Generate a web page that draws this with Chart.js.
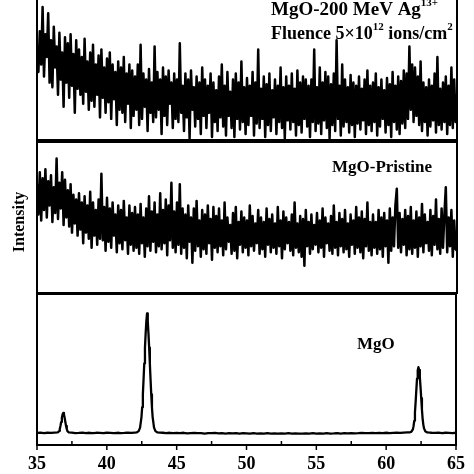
<!DOCTYPE html>
<html><head><meta charset="utf-8">
<script src="https://cdn.jsdelivr.net/npm/chart.js@4"></script>
<style>
html,body{margin:0;padding:0;background:#fff;}
#wrap{position:relative;width:474px;height:474px;overflow:hidden;background:#fff;}
canvas{position:absolute;left:0;}
</style></head><body>
<div id="wrap">
<canvas id="c1" width="474" height="165" style="top:-21px;width:474px;height:165px"></canvas>
<canvas id="c2" width="474" height="170" style="top:130px;width:474px;height:170px"></canvas>
<canvas id="c3" width="474" height="190" style="top:284px;width:474px;height:190px"></canvas>
</div>
<script>
// 2-theta sampling grid of the two noisy scans
const scanStart = 35, scanStep = 0.1;

// MgO-200 MeV Ag13+ (irradiated) intensity, 35.0 .. 65.0 every 0.1 deg
const irradiated = [
60,45,72,50,88,42,70,55,84,38,
66,35,75,48,62,30,71,40,58,22,
68,38,64,28,70,36,57,18,66,34,
60,30,55,24,67,32,52,20,58,26,
63,22,50,30,56,15,60,28,48,18,
54,25,58,14,50,27,45,10,52,20,
48,18,55,12,44,24,50,8,46,16,
42,20,50,10,63,14,44,22,40,6,
47,18,38,12,62,15,45,20,40,4,
48,16,42,10,46,24,38,8,44,14,
40,12,64,18,36,6,44,15,40,1,
46,20,35,9,42,14,38,4,48,16,
40,8,36,18,44,2,38,12,33,6,
42,15,50,9,36,3,45,16,32,8,
40,2,44,14,38,7,52,12,35,4,
41,10,36,16,45,3,38,11,60,8,
34,14,42,2,37,10,44,6,33,15,
40,4,36,12,48,8,35,1,42,13,
36,7,44,12,34,3,46,10,38,5,
42,14,40,9,36,2,40,12,60,6,
35,11,48,4,38,13,45,8,42,1,
37,10,44,6,66,14,36,3,50,9,
40,12,35,5,43,10,38,2,36,11,
42,7,34,13,40,4,46,10,36,6,
38,12,44,3,35,9,40,14,33,5,
41,10,37,2,45,12,36,7,42,4,
39,11,46,8,44,14,62,20,50,12,
48,16,42,10,52,6,38,12,35,3,
40,9,36,13,44,5,55,10,34,7,
38,12,42,4,36,10,48,8,40,12,
30];

// MgO-Pristine intensity, 35.0 .. 65.0 every 0.1 deg
const pristine = [
72,52,80,48,76,55,82,50,74,58,
78,47,70,53,89,49,73,56,80,45,
75,50,68,44,72,40,65,46,62,38,
66,42,60,33,64,40,58,36,67,30,
60,38,55,32,62,36,79,35,57,28,
63,34,56,30,60,38,52,27,58,33,
55,29,61,35,50,26,58,32,53,28,
57,30,52,26,59,33,50,24,56,31,
64,28,54,34,60,27,52,31,66,29,
55,33,62,25,58,35,73,30,54,27,
60,32,72,26,56,30,52,23,58,34,
50,20,56,28,61,31,48,24,55,29,
52,26,58,33,49,22,57,30,51,27,
56,31,48,25,60,29,50,34,45,26,
53,28,57,23,47,32,54,27,50,30,
48,25,58,31,51,28,46,33,55,26,
50,29,47,24,56,32,49,27,52,30,
46,26,57,31,48,23,54,29,50,33,
47,28,52,25,60,30,46,27,51,24,
49,18,55,31,47,26,52,29,45,32,
53,27,48,30,56,24,50,33,46,28,
51,26,58,30,47,25,53,31,49,27,
55,29,46,24,52,32,48,26,57,30,
50,27,54,23,49,31,60,28,47,25,
52,30,47,26,55,29,50,24,53,31,
48,20,56,28,50,31,58,69,30,53,
27,49,32,55,25,51,29,57,26,48,
30,54,24,50,31,59,27,52,33,47,
28,55,25,51,32,62,29,49,26,56,
30,52,70,27,50,31,55,24,48,29,
28];

// MgO reference pattern
const refTheta = [
35.0,35.25,35.5,35.75,36.0,36.25,36.48,
36.58,36.63,36.68,36.73,36.78,36.83,36.88,36.93,36.98,37.03,37.08,37.13,37.18,37.28,
37.5,37.75,38.0,38.25,38.5,38.75,39.0,39.25,39.5,39.75,40.0,40.25,40.5,40.75,41.0,41.25,41.5,41.75,42.0,42.13,
42.28,42.38,42.48,42.53,42.58,42.63,42.68,42.73,42.78,42.83,42.88,42.93,42.98,43.03,43.08,43.13,43.18,43.23,43.28,43.38,43.48,43.63,43.8,44.0,
44.25,44.5,44.75,45.0,45.25,45.5,45.75,46.0,46.25,46.5,46.75,47.0,47.25,47.5,47.75,48.0,48.25,48.5,48.75,49.0,
49.25,49.5,49.75,50.0,50.25,50.5,50.75,51.0,51.25,51.5,51.75,52.0,52.25,52.5,52.75,53.0,53.25,53.5,53.75,54.0,
54.25,54.5,54.75,55.0,55.25,55.5,55.75,56.0,56.25,56.5,56.75,57.0,57.25,57.5,57.75,58.0,58.25,58.5,58.75,59.0,
59.25,59.5,59.75,60.0,60.25,60.5,60.75,61.0,61.25,61.5,
61.71,61.81,61.91,61.96,62.01,62.06,62.11,62.16,62.21,62.26,62.31,62.36,62.41,62.46,62.51,62.56,62.61,62.66,62.71,62.81,62.91,
63.0,63.25,63.5,63.75,64.0,64.25,64.5,64.75,65.0];
const refIntensity = [
8.0,8.2,7.9,8.1,8.0,8.2,8.3,
9.2,10.6,12.6,15.2,18.0,20.2,21.2,20.2,18.0,15.2,12.6,10.6,9.2,8.3,
8.2,7.9,8.0,8.2,7.9,8.1,7.8,8.1,8.0,7.9,8.1,8.0,7.8,8.1,7.9,8.0,8.2,8.0,8.2,8.3,
9.2,11.5,18.5,25,33.5,43.5,54,64.5,74,82,87.2,82,74,64.5,54,43.5,33.5,25,18.5,11.5,9.2,8.3,8.2,8.1,
7.9,8.1,7.8,8.0,7.9,8.1,7.7,7.9,8.0,7.8,7.9,7.6,7.9,7.8,8.0,7.7,7.9,7.6,7.8,7.7,
7.9,7.6,7.8,7.7,7.5,7.8,7.6,7.7,7.5,7.8,7.6,7.7,7.5,7.7,7.6,7.8,7.5,7.7,7.6,7.5,
7.7,7.6,7.8,7.5,7.7,7.6,7.8,7.6,7.7,7.9,7.6,7.8,7.7,7.9,7.7,7.8,8.0,7.8,7.9,8.0,
7.8,8.0,7.9,8.1,7.9,8.0,8.1,8.0,8.2,8.3,
8.4,8.8,10.3,12.5,16,21.5,28.5,36.5,44,49.5,51.5,49.8,45,38.5,31,23.5,17.5,13.5,11,9.0,8.4,
8.3,8.1,8.0,8.2,7.9,8.1,8.0,7.9,8.1];

const xMin = 35, xMax = 65, xMajorStep = 5, xMinorStep = 2.5;
const panelLabels = {
  top: [[{t:'MgO-200 MeV Ag'},{t:'13+',sup:true}], [{t:'Fluence 5\u00d710'},{t:'12',sup:true},{t:' ions/cm'},{t:'2',sup:true}]],
  mid: [[{t:'MgO-Pristine'}]],
  bot: [[{t:'MgO'}]]
};
const yTitle = 'Intensity';

const FONT = '"Liberation Serif","Times New Roman",serif';

function scanPoints(arr){ return arr.map((v,i)=>({x: +(scanStart + i*scanStep).toFixed(2), y: v})); }
function refPoints(){ return refTheta.map((t,i)=>({x:t, y:refIntensity[i]})); }

function drawRich(ctx, x, y, parts, size){
  let cx = x;
  ctx.textBaseline = 'alphabetic';
  ctx.textAlign = 'left';
  for (const p of parts){
    if (p.sup){
      ctx.font = 'bold ' + Math.round(size*0.6) + 'px ' + FONT;
      ctx.fillText(p.t, cx, y - size*0.5);
    } else {
      ctx.font = 'bold ' + size + 'px ' + FONT;
      ctx.fillText(p.t, cx, y);
    }
    cx += ctx.measureText(p.t).width;
  }
}

function framePlugin(cfg){
  return {
    id:'frame'+cfg.name,
    afterDraw(chart){
      const ctx = chart.ctx, a = chart.chartArea;
      ctx.save();
      ctx.strokeStyle = '#000';
      ctx.lineWidth = 2;
      ctx.strokeRect(a.left, a.top, a.right - a.left, a.bottom - a.top);
      if (cfg.ticks){
        const xs = chart.scales.x;
        ctx.lineWidth = 1.5;
        for (let v = xMin; v <= xMax + 1e-9; v += xMinorStep){
          const px = xs.getPixelForValue(v);
          const major = Math.abs(v/xMajorStep - Math.round(v/xMajorStep)) < 1e-6;
          ctx.beginPath();
          if (major){ ctx.moveTo(px, a.bottom); ctx.lineTo(px, a.bottom + 5); }
          else { ctx.moveTo(px, a.bottom); ctx.lineTo(px, a.bottom - 4); }
          ctx.stroke();
        }
      }
      ctx.fillStyle = '#000';
      for (const L of cfg.labels){ drawRich(ctx, L.x, L.y, L.parts, L.size); }
      if (cfg.yTitle){
        ctx.save();
        ctx.translate(cfg.yTitle.x, cfg.yTitle.y);
        ctx.rotate(-Math.PI/2);
        ctx.font = 'bold 16px ' + FONT;
        ctx.textAlign = 'center';
        ctx.textBaseline = 'middle';
        ctx.fillText(yTitle, 0, 0);
        ctx.restore();
      }
      ctx.restore();
    }
  };
}

function makeChart(id, points, cfg){
  return new Chart(document.getElementById(id), {
    type:'line',
    data:{datasets:[{data:points, borderColor:'#000', borderWidth:cfg.lw, pointRadius:0, tension:0, fill:false,
                     borderJoinStyle:'round', borderCapStyle:'round', segment:{borderColor:() => '#000'}}]},
    options:{
      responsive:false, animation:false, devicePixelRatio:1,
      layout:{padding:cfg.padding},
      plugins:{legend:{display:false}, tooltip:{enabled:false}},
      scales:{
        x:{type:'linear', min:xMin, max:xMax, display:cfg.showX,
           grid:{display:false, drawTicks:false}, border:{display:false},
           ticks:{stepSize:xMajorStep, autoSkip:false, maxRotation:0, padding:9, color:'#000',
                  font:{family:FONT, size:18, weight:'bold'}},
           afterFit(s){ if (cfg.showX) s.height = 29; }},
        y:{type:'linear', min:0, max:100, display:false}
      }
    },
    plugins:[framePlugin(cfg)]
  });
}

// top panel: chart area y -11..140 (canvas offset -21)
makeChart('c1', scanPoints(irradiated), {
  name:'top', lw:2.5, showX:false, ticks:false,
  padding:{left:37, right:17, top:10, bottom:4},
  labels:[{x:271, y:36, size:19, parts:panelLabels.top[0]}, {x:271, y:60, size:18, parts:panelLabels.top[1]}]
});
// middle panel: chart area y 142..293 (canvas offset 130)
makeChart('c2', scanPoints(pristine), {
  name:'mid', lw:2.5, showX:false, ticks:false,
  padding:{left:37, right:17, top:12, bottom:7},
  labels:[{x:332, y:42, size:17, parts:panelLabels.mid[0]}],
  yTitle:{x:20, y:92}
});
// bottom panel: chart area y 294..445 (canvas offset 284)
makeChart('c3', refPoints(), {
  name:'bot', lw:2.3, showX:true, ticks:true,
  padding:{left:37, right:17, top:10, bottom:0},
  labels:[{x:357, y:65, size:17, parts:panelLabels.bot[0]}]
});
</script>
</body></html>
